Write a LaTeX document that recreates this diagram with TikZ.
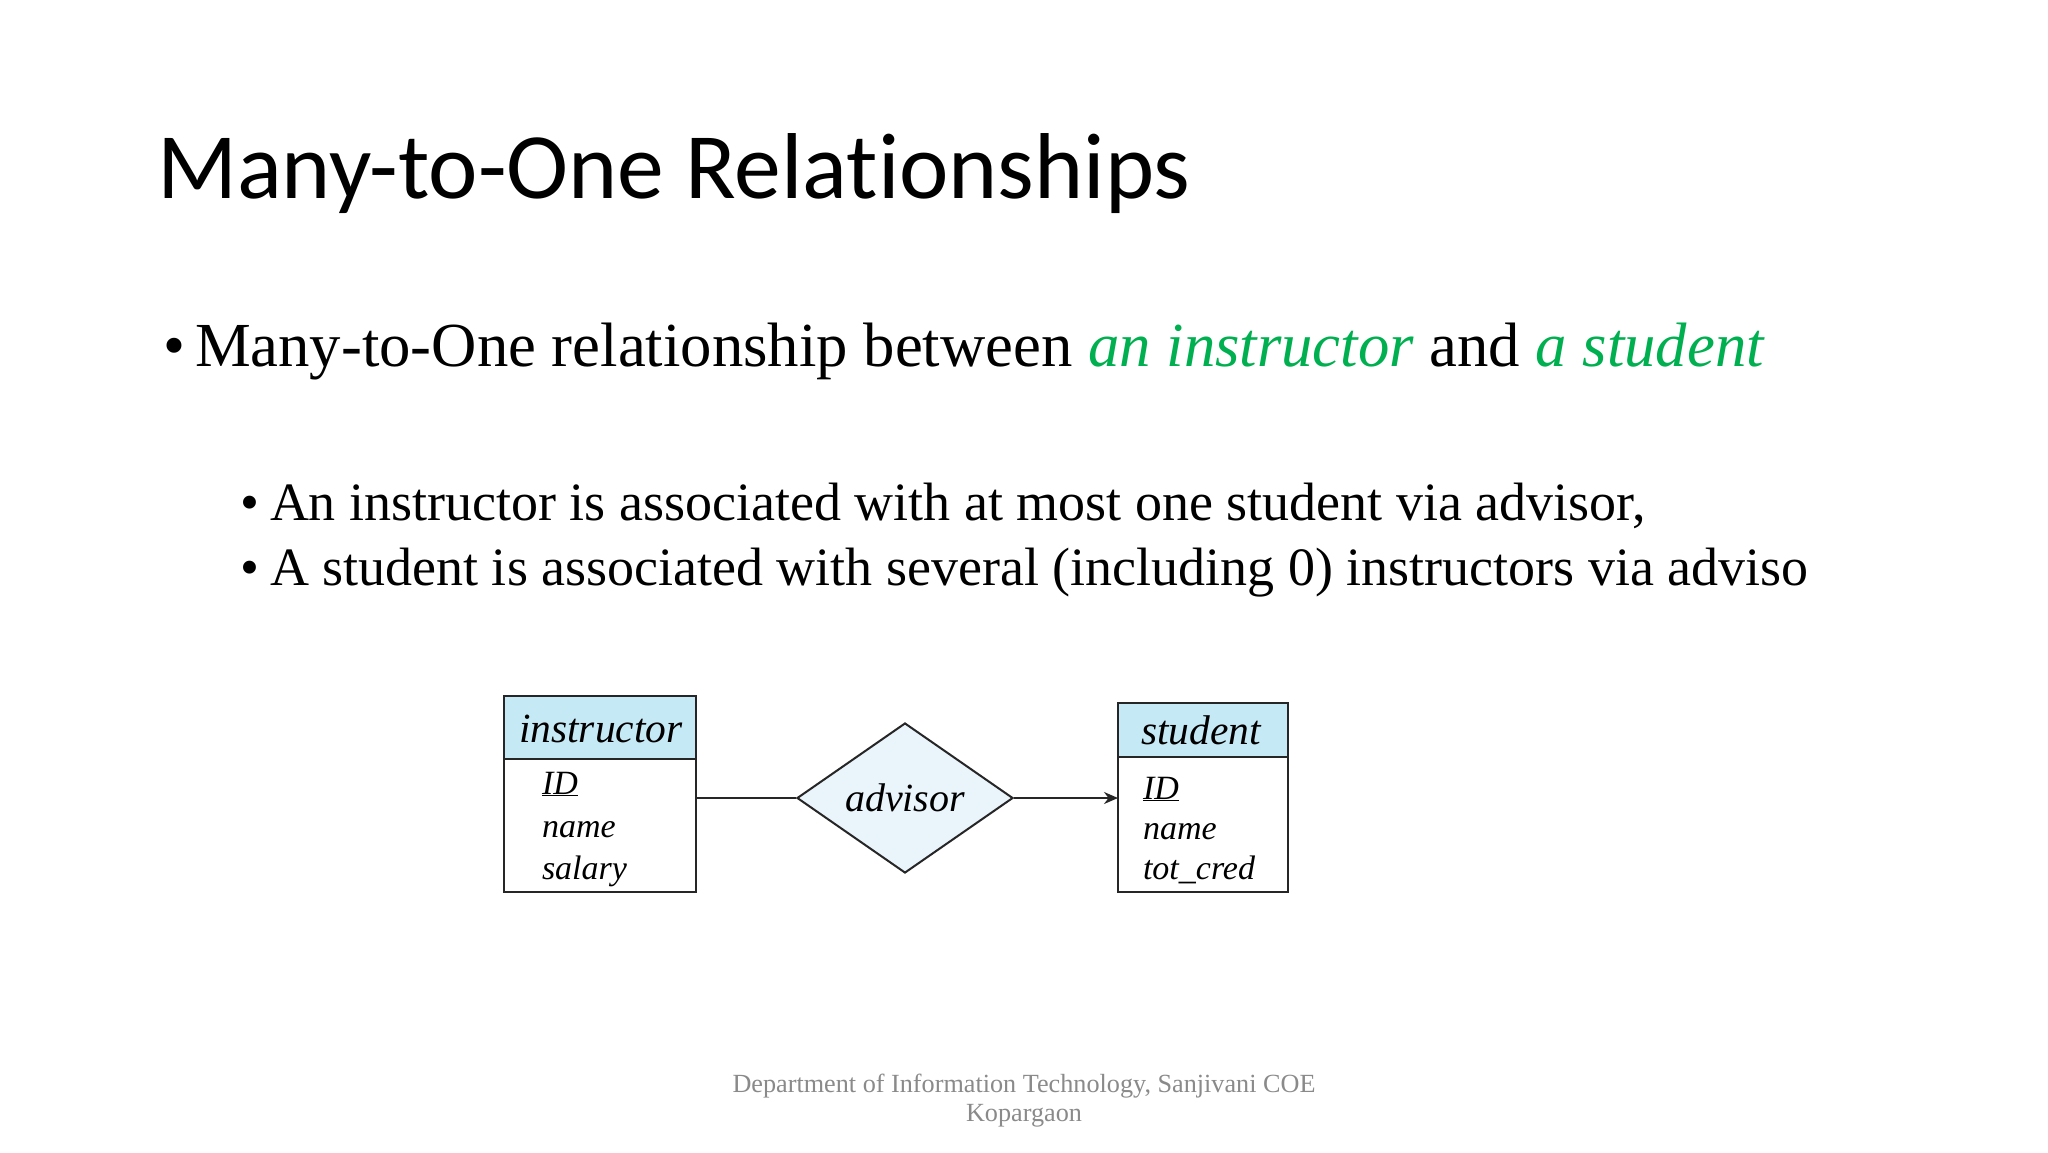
\documentclass[tikz,border=0pt]{standalone}
\usepackage{fontspec}
\setmainfont{Liberation Serif}
\newfontfamily\titlefont[Ligatures=NoCommon]{Carlito}
\newfontfamily\erfont{Liberation Serif}
\usetikzlibrary{shapes.geometric,arrows.meta}
\definecolor{hdrblue}{HTML}{C6E9F6}
\definecolor{diablue}{HTML}{EAF4FB}
\definecolor{offgreen}{HTML}{00B050}
\definecolor{footgray}{HTML}{8A8A8A}
\tikzset{
  txt/.style={anchor=base west, inner sep=0pt, outer sep=0pt},
  erline/.style={line width=2pt, draw=black!85},
  ertitle/.style={txt, font=\erfont\itshape\fontsize{41.5}{41.5}\selectfont},
  erattr/.style={txt, font=\erfont\itshape\fontsize{34}{34}\selectfont},
}
\begin{document}
\begin{tikzpicture}[x=1pt,y=-1pt]
\useasboundingbox[fill=white] (0,0) rectangle (2048,1152);
% title
\node[txt, font=\titlefont\fontsize{93.6}{93.6}\selectfont] (title) at (157,198) {Many-to-One Relationships};
% bullet 1
\node[txt, font=\fontsize{62.7}{62.7}\selectfont] (b1dot) at (163,366) {\textbullet};
\node[txt, font=\fontsize{62.7}{62.7}\selectfont] (b1) at (195,366) {Many-to-One relationship between \textcolor{offgreen}{\itshape an instructor} and \textcolor{offgreen}{\itshape a student}};
% sub-bullets
\node[txt, font=\fontsize{54}{54}\selectfont] (s1dot) at (240,520) {\textbullet};
\node[txt, font=\fontsize{54}{54}\selectfont] (s1) at (270,520) {An instructor is associated with at most one student via advisor,};
\node[txt, font=\fontsize{54}{54}\selectfont] (s2dot) at (240,585) {\textbullet};
\node[txt, font=\fontsize{54}{54}\selectfont] (s2) at (270,585) {A student is associated with several (including 0) instructors via adviso};
% ER diagram: instructor
\draw[erline, fill=hdrblue] (504,696) rectangle (696,759);
\draw[erline, fill=white] (504,759) rectangle (696,892);
\coordinate (instR) at (696,798);
\node[ertitle] (instT) at (519,742) {instructor};
\node[erattr] (instID) at (542,794) {\underline{ID}};
\node[erattr] (instN) at (542,837) {name};
\node[erattr] (instS) at (542,879) {salary};
% student
\draw[erline, fill=hdrblue] (1118,703) rectangle (1288,757);
\draw[erline, fill=white] (1118,757) rectangle (1288,892);
\coordinate (studL) at (1118,798);
\node[ertitle] (studT) at (1141,744) {student};
\node[erattr] (studID) at (1143,799) {\underline{ID}};
\node[erattr] (studN) at (1143,839) {name};
\node[erattr] (studC) at (1143,879) {tot\_cred};
% relationship
\node[diamond, draw, line width=2pt, draw=black!85, fill=diablue, minimum width=216pt, minimum height=150pt, inner sep=0pt, aspect=1.43] (adv) at (905,798) {};
\node[anchor=base, inner sep=0pt, font=\erfont\itshape\fontsize{40}{40}\selectfont] (advT) at (905,811) {advisor};
\draw[erline] (instR) -- (adv.west);
\draw[erline, -{Stealth[length=14pt,width=12pt]}] (adv.east) -- (studL);
% footer
\node[anchor=base, inner sep=0pt, font=\fontsize{26.2}{26.2}\selectfont, text=footgray] (foot1) at (1024,1092) {Department of Information Technology, Sanjivani COE};
\node[anchor=base, inner sep=0pt, font=\fontsize{26.2}{26.2}\selectfont, text=footgray] (foot2) at (1024,1121) {Kopargaon};
\end{tikzpicture}
\end{document}
